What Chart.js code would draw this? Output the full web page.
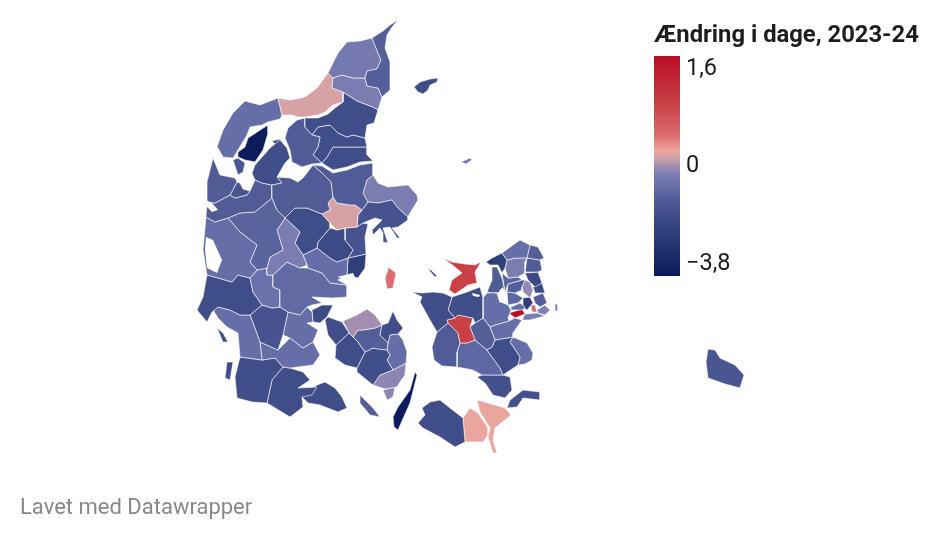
<!DOCTYPE html>
<html>
<head>
<meta charset="utf-8">
<style>body{margin:0;background:#fff}canvas{display:block}</style>
<script src="https://cdn.jsdelivr.net/npm/chart.js@4/dist/chart.umd.js"></script>
</head>
<body>
<canvas id="kort" width="940" height="540"></canvas>
<script>
// kommune outlines, in map units
const frederikshavn = [[398,20],[390,25],[383,31],[372,38],[374,43],[378,53],[381,60],[377,69],[367,71],[365,78],[367,86],[378,88],[382,97],[390,90],[390,62],[385,48],[387,35],[392,27]];
const hjorring = [[372,38],[360,41],[347,42],[338,53],[328,73],[333,78],[342,75],[353,78],[365,78],[367,71],[377,69],[381,60],[378,53],[374,43]];
const bronderslev = [[333,78],[342,75],[353,78],[365,78],[367,86],[378,88],[382,97],[378,110],[373,107],[357,101],[343,92],[332,88]];
const jammerbugt = [[328,73],[333,78],[332,88],[343,92],[343,102],[333,105],[325,112],[318,115],[305,117],[297,117],[292,115],[282,115],[278,98],[290,100],[305,97],[317,88]];
const laeso = [[414,87],[420,82],[430,79],[438,78],[437,82],[430,85],[428,90],[423,94],[418,92]];
const aalborg = [[343,92],[357,101],[373,107],[378,110],[374,123],[367,125],[365,138],[353,135],[347,137],[338,133],[330,125],[318,127],[312,135],[305,127],[305,118],[318,118],[328,114],[335,108],[343,102]];
const vesthimmerland = [[297,120],[305,118],[305,127],[312,135],[320,137],[318,147],[313,155],[322,163],[312,164],[302,167],[292,162],[290,150],[285,138],[288,128]];
const rebild = [[312,135],[318,127],[330,125],[338,133],[347,137],[353,135],[365,138],[367,147],[333,147],[327,157],[322,163],[313,155],[318,147],[320,137]];
const mariagerfjord = [[333,147],[367,147],[367,155],[373,161],[360,162],[347,167],[333,170],[322,163],[327,157]];
const randers = [[313,165],[322,166],[333,173],[347,170],[360,165],[373,163],[373,175],[367,180],[363,193],[365,197],[368,202],[362,210],[355,205],[350,205],[337,203],[333,197],[331,182],[322,173]];
const viborg = [[313,165],[322,173],[331,182],[333,197],[328,203],[330,210],[322,214],[307,208],[295,208],[285,218],[277,210],[272,198],[272,185],[282,183],[277,177],[290,178],[298,182],[303,178]];
const skive = [[255,165],[270,148],[280,140],[287,148],[290,158],[285,163],[277,177],[282,183],[272,185],[262,183],[255,180],[252,173]];
const fur = [[272,141],[280,139],[282,143],[275,144]];
const thy = [[278,98],[282,115],[280,119],[268,122],[262,125],[250,127],[247,135],[238,150],[233,158],[223,157],[218,148],[217,147],[223,130],[233,113],[245,101],[260,105]];
const mors = [[248,138],[268,125],[268,133],[263,150],[255,162],[245,160],[238,157],[238,152],[245,147]];
const lemvig = [[213,158],[220,175],[235,178],[237,182],[230,195],[215,203],[207,202],[207,182]];
const struerNord = [[238,158],[245,163],[243,172],[238,175],[233,160]];
const struerSyd = [[230,195],[237,182],[240,183],[243,189],[250,191],[247,195],[235,198]];
const holstebro = [[207,202],[215,203],[230,195],[235,198],[247,195],[250,191],[255,180],[262,183],[272,185],[272,198],[255,212],[240,213],[228,218],[215,222],[206,217]];
const favrskov = [[333,197],[337,203],[350,205],[355,205],[362,210],[358,215],[357,227],[345,228],[337,230],[330,223],[322,214],[330,210],[328,203]];
const ringkobing = [[206,217],[215,222],[228,218],[240,232],[257,245],[250,262],[257,270],[250,278],[238,275],[232,282],[218,278],[207,275],[203,250]];
const herning = [[228,218],[240,213],[255,212],[272,198],[277,210],[285,218],[277,230],[283,250],[270,257],[267,268],[257,270],[250,262],[257,245],[240,232]];
const ikast = [[285,218],[300,232],[295,243],[303,255],[307,265],[300,268],[287,262],[273,275],[267,275],[267,268],[270,257],[283,250],[277,230]];
const silkeborg = [[285,218],[295,208],[307,208],[322,214],[330,223],[330,228],[318,242],[317,248],[303,255],[295,243],[300,232]];
const skanderborg = [[318,242],[330,228],[337,230],[345,228],[345,240],[353,250],[348,258],[337,262],[330,258],[317,248]];
const aarhus = [[345,228],[357,227],[363,223],[368,224],[365,237],[366,254],[348,258],[353,250],[345,240]];
const syddjurs = [[368,202],[378,203],[392,200],[398,208],[408,217],[408,220],[398,227],[392,228],[400,238],[397,238],[390,227],[383,228],[388,243],[383,242],[383,233],[380,228],[373,235],[372,230],[382,220],[375,218],[363,223],[357,227],[358,215],[362,210]];
const norddjurs = [[363,193],[367,180],[373,175],[378,183],[388,187],[408,185],[417,195],[418,200],[410,213],[408,217],[398,208],[392,200],[378,203],[368,202],[365,197]];
const horsens = [[303,255],[317,248],[330,258],[337,262],[348,258],[347,275],[338,280],[347,285],[330,283],[322,273],[308,268],[307,265]];
const odder = [[348,258],[366,254],[365,268],[358,278],[347,275]];
const vejle = [[273,275],[287,262],[300,268],[308,268],[322,273],[330,283],[347,285],[347,297],[333,298],[312,297],[322,303],[312,305],[307,307],[300,315],[288,312],[280,307],[280,290],[273,287]];
const billund = [[250,278],[257,270],[267,268],[267,275],[273,275],[273,287],[280,290],[280,307],[272,308],[262,305],[253,292]];
const varde = [[207,275],[218,278],[232,282],[238,275],[250,278],[253,292],[262,305],[250,315],[240,315],[230,310],[218,307],[212,312],[207,322],[197,310],[203,297]];
const esbjerg = [[213,310],[218,307],[230,310],[240,315],[250,315],[260,342],[262,360],[240,357],[238,333],[227,327],[218,318]];
const fano = [[217,328],[223,333],[228,342],[223,342]];
const romo = [[227,362],[233,362],[230,380],[225,378]];
const vejen = [[250,315],[262,305],[272,308],[280,307],[288,312],[283,335],[278,350],[260,342]];
const kolding = [[288,312],[300,315],[307,307],[312,312],[313,322],[307,323],[318,330],[313,342],[303,348],[290,338],[283,335]];
const fredericia = [[312,310],[322,305],[333,305],[327,317],[320,323],[313,322]];
const haderslev = [[260,342],[278,350],[290,338],[303,348],[313,342],[320,355],[313,365],[290,368],[283,367],[275,358],[262,360]];
const tonder = [[240,357],[262,360],[275,358],[283,367],[272,380],[267,403],[252,402],[237,398],[235,377]];
const aabenraa = [[283,367],[290,368],[303,372],[310,380],[298,388],[317,387],[312,395],[302,397],[303,407],[290,417],[267,403],[272,380]];
const sonderborg = [[302,397],[317,385],[325,382],[335,388],[342,397],[347,408],[338,412],[320,405],[308,403]];
const middelfart = [[325,320],[328,317],[342,322],[349,333],[336,345],[328,335]];
const nordfyn = [[343,321],[357,315],[367,309],[375,315],[382,325],[375,328],[363,330],[358,330],[353,337],[349,333]];
const kerteminde = [[382,325],[388,323],[393,311],[397,320],[403,328],[398,334],[390,335],[388,343],[380,335]];
const odense = [[358,330],[363,330],[375,328],[382,325],[380,335],[388,343],[387,350],[378,349],[373,348],[365,352],[358,342],[353,337]];
const assens = [[336,345],[349,333],[353,337],[358,342],[365,352],[360,362],[357,368],[345,365],[335,358]];
const faaborg = [[365,352],[373,348],[387,350],[390,355],[387,360],[393,370],[380,375],[373,385],[357,372],[357,368],[360,362]];
const nyborg = [[388,343],[390,335],[398,334],[403,340],[407,352],[406,363],[393,370],[387,360],[390,355],[387,350]];
const svendborg = [[373,385],[380,375],[393,370],[406,363],[405,375],[400,382],[397,387],[385,389]];
const tasinge = [[383,390],[395,387],[393,397],[387,400]];
const aero = [[360,395],[373,408],[380,417],[370,415],[360,403]];
const langeland = [[415,372],[417,375],[410,403],[398,430],[394,427],[393,417],[398,407],[410,390]];
const samso = [[387,258],[388,267],[396,273],[393,288],[387,289],[385,278],[388,270]];
const anholt = [[461,162],[470,158],[472,160],[466,164]];
const bornholm = [[708,349],[715,350],[720,358],[735,365],[744,375],[740,388],[725,384],[708,378],[706,362]];
const odsherred = [[443,258],[452,262],[465,264],[475,265],[481,262],[475,272],[477,283],[468,285],[455,294],[449,290],[452,280],[462,273],[455,267]];
const kalundborg = [[412,292],[422,293],[433,292],[443,293],[452,297],[448,310],[455,318],[447,320],[448,323],[437,332],[430,320],[420,302],[422,297]];
const sejero = [[428,269],[431,270],[437,276],[435,277]];
const holbaek = [[452,297],[467,292],[480,287],[483,298],[483,318],[475,323],[473,318],[458,315],[455,318],[448,310]];
const soro = [[447,320],[455,318],[458,315],[473,318],[470,327],[475,340],[467,343],[460,343],[458,333],[448,323]];
const slagelse = [[437,332],[448,323],[458,333],[460,343],[457,352],[457,367],[442,366],[434,360],[432,347]];
const ringsted = [[475,323],[483,318],[490,327],[493,335],[495,340],[492,347],[487,350],[475,340],[470,327]];
const lejre = [[483,298],[487,293],[497,293],[499,300],[503,303],[508,305],[511,310],[508,318],[509,321],[495,325],[490,327],[483,318]];
const koge = [[490,327],[495,325],[509,321],[515,318],[522,320],[513,333],[513,337],[495,340],[493,335]];
const faxe = [[487,350],[492,347],[495,340],[513,337],[510,342],[520,357],[518,365],[503,375],[500,368]];
const stevns = [[513,337],[527,343],[533,353],[532,360],[525,364],[518,365],[520,357],[510,342]];
const naestved = [[457,352],[460,343],[467,343],[475,340],[487,350],[500,368],[503,375],[482,375],[473,370],[457,367]];
const vordingborg = [[477,377],[482,375],[503,375],[510,377],[512,390],[505,398],[493,395],[485,383]];
const mon = [[507,408],[510,400],[523,390],[540,392],[540,400],[523,398],[517,407]];
const lolland = [[422,408],[430,402],[440,400],[450,408],[463,418],[465,442],[455,447],[440,437],[423,428],[418,423],[425,415]];
const guldborgVest = [[463,418],[470,408],[478,413],[488,428],[488,435],[483,442],[465,442]];
const guldborgOst = [[477,400],[485,402],[495,405],[505,408],[511,415],[495,428],[493,440],[497,453],[493,453],[488,437],[490,428],[480,412]];
const gribskov = [[502,253],[520,240],[530,245],[527,258],[515,258],[507,260]];
const halsnaes = [[486,262],[492,258],[502,253],[507,260],[505,268],[502,273],[498,265],[490,265]];
const frederikssund = [[492,267],[497,267],[502,278],[505,292],[492,293],[487,292],[492,280]];
const helsingor = [[530,245],[538,247],[544,258],[540,260],[527,258]];
const hillerod = [[507,260],[515,258],[527,258],[525,262],[525,273],[518,277],[508,278],[505,268]];
const fredensborg = [[527,258],[540,260],[542,270],[538,272],[525,272]];
const horsholm = [[525,273],[538,272],[542,283],[535,287],[528,280]];
const allerod = [[502,273],[508,278],[518,277],[522,280],[508,284],[505,292]];
const egedal = [[508,284],[522,280],[525,280],[522,287],[522,290],[515,293],[507,292]];
const rudersdal = [[522,287],[525,280],[530,282],[533,290],[530,298],[523,292]];
const gladsaxe = [[528,292],[532,292],[532,296],[529,296]];
const lyngby = [[533,287],[542,283],[545,293],[535,293]];
const ballerup = [[507,292],[515,293],[523,298],[518,303],[508,305]];
const taastrup = [[511,307],[520,303],[525,307],[523,310],[511,310]];
const albertslund = [[523,298],[530,297],[533,303],[527,310],[523,307]];
const kobenhavn = [[533,297],[543,293],[547,303],[540,307],[535,303]];
const tarnby = [[531,305],[535,305],[537,312],[532,312]];
const dragor = [[537,310],[545,305],[550,310],[545,315],[538,313]];
const ishoj = [[525,314],[537,313],[545,316],[530,320],[522,320]];
const solrod = [[509,313],[522,309],[525,314],[515,318]];
const saltholm = [[555,303],[558,305],[558,311],[555,311]];

const regions = [
  frederikshavn, hjorring, bronderslev, jammerbugt, laeso, aalborg, vesthimmerland, rebild, mariagerfjord, randers,
  viborg, skive, fur, thy, mors, lemvig, struerNord, struerSyd, holstebro, favrskov, ringkobing,
  herning, ikast, silkeborg, skanderborg, aarhus, syddjurs, norddjurs, horsens, odder, vejle,
  billund, varde, esbjerg, fano, romo, vejen, kolding, fredericia, haderslev, tonder,
  aabenraa, sonderborg, middelfart, nordfyn, kerteminde, odense, assens, faaborg, nyborg, svendborg,
  tasinge, aero, langeland, samso, anholt, bornholm, odsherred, kalundborg, sejero, holbaek,
  soro, slagelse, ringsted, lejre, koge, faxe, stevns, naestved, vordingborg, mon,
  lolland, guldborgVest, guldborgOst, gribskov, halsnaes, frederikssund, helsingor, hillerod, fredensborg, horsholm,
  allerod, egedal, rudersdal, gladsaxe, lyngby, ballerup, taastrup, albertslund, kobenhavn, tarnby, dragor,
  ishoj, solrod, saltholm
];
const changes = [
  -1.3, -0.6, -0.5, 0.03, -1.9, -1.9, -1.4, -1.9, -1.9, -1.4,
  -1.4, -1.9, -1.9, -0.9, -3.8, -1.4, -1.6, -1.6, -1.4, 0.03, -0.9,
  -1.2, -0.5, -1.9, -2, -1.7, -1.7, -0.5, -0.9, -2.5, -1.0,
  -0.8, -1.9, -0.9, -1.9, -1.9, -1.7, -0.9, -2, -0.9, -1.9,
  -1.9, -1.9, -1.9, -0.15, -1.9, -1.3, -1.9, -1.9, -0.9, -0.3,
  -0.3, -1.3, -3.8, 0.35, -0.5, -1.6, 0.85, -1.9, -1.9, -1.9,
  0.85, -1.4, -1.3, -0.9, -0.9, -1.9, -0.9, -1.1, -1.8, -1.8,
  -1.9, 0.07, 0.07, -0.9, -2.5, -1.4, -1.3, -0.5, -1.4, -2,
  -1.2, -1.3, -0.25, 0.7, -2, -1.1, -0.9, -2.5, -1.3, 0.4, -0.4,
  -0.5, 1.6, -0.4
];
// waters cut into the land
const nissumFjord = [[206,200],[212,203],[218,210],[212,212],[207,207]];
const ringkobingFjord = [[206,237],[213,240],[222,260],[217,273],[207,268],[205,250]];
const horsensFjord = [[337,277],[353,273],[355,277],[345,279]];
const isefjord = [[472,293],[480,295],[479,297],[473,296]];
const roskildeFjord = [[499,291],[503,287],[505,293],[503,303],[499,302]];
const waters = [nissumFjord, ringkobingFjord, horsensFjord, isefjord, roskildeFjord];

// colour key
const keyBar = [[654,56],[680,56],[680,276],[654,276]];
const keyValues = [1.6, 0.9, 0.35, 0.08, 0, -0.15, -0.4, -0.8, -1.3, -1.9, -2.5, -3.8];
const keyColors = ['#b90d24','#c73c42','#dc6c6e','#f0a69d','#c7a0ab','#a38eb0','#8080b4','#6b72ab','#545f9a','#3f4d88','#2f3f7a','#0b1b5b'];
const keyStops = [0, 0.2, 0.36, 0.43, 0.47, 0.5, 0.53, 0.58, 0.64, 0.72, 0.8, 1];
const keyLabels = ['1,6', '0', '\u22123,8'];

function mix(a, b, t) {
  const pa = parseInt(a.slice(1), 16), pb = parseInt(b.slice(1), 16);
  const ch = s => Math.round(((pa >> s) & 255) * (1 - t) + ((pb >> s) & 255) * t);
  return `rgb(${ch(16)},${ch(8)},${ch(0)})`;
}
function colorFor(v) {
  for (let i = 1; i < keyValues.length; i++) {
    if (v >= keyValues[i]) {
      return mix(keyColors[i - 1], keyColors[i], (keyValues[i - 1] - v) / (keyValues[i - 1] - keyValues[i]));
    }
  }
  return keyColors[keyColors.length - 1];
}
const toPoints = outline => outline.concat([outline[0]]).map(p => ({ x: p[0], y: p[1] }));

const canvas = document.getElementById('kort');
const keyGradient = canvas.getContext('2d').createLinearGradient(0, keyBar[0][1], 0, keyBar[2][1]);
keyStops.forEach((s, i) => keyGradient.addColorStop(s, keyColors[i]));

// Chart.js paints the first dataset last, so the waters go in front
const datasets = waters.map(outline => ({ data: toPoints(outline), backgroundColor: '#fff', borderWidth: 0 }));
regions.forEach((outline, i) => datasets.push({
  data: toPoints(outline),
  backgroundColor: colorFor(changes[i]),
  borderColor: 'rgba(255,255,255,0.75)',
  borderWidth: 0.8
}));
datasets.push({ data: toPoints(keyBar), borderWidth: 0, backgroundColor: keyGradient });

const texts = {
  id: 'texts',
  afterDraw(chart) {
    const c = chart.ctx;
    c.save();
    c.textBaseline = 'alphabetic';
    c.fillStyle = '#1d1d1d';
    c.font = 'bold 23.8px Roboto';
    c.fillText('Ændring i dage, 2023-24', 654, 42);
    c.font = '23.5px Roboto';
    c.fillText(keyLabels[0], 686, 75);
    c.fillText(keyLabels[1], 686, 172);
    c.fillText(keyLabels[2], 686, 270);
    c.fillStyle = '#888';
    c.font = '22px Roboto';
    c.fillText('Lavet med Datawrapper', 20, 514);
    c.restore();
  }
};

new Chart(canvas, {
  type: 'scatter',
  data: { datasets },
  options: {
    responsive: false,
    animation: false,
    layout: { padding: 0 },
    clip: false,
    showLine: true,
    fill: 'shape',
    tension: 0,
    pointRadius: 0,
    plugins: { legend: { display: false }, tooltip: { enabled: false } },
    scales: {
      x: { type: 'linear', min: 0, max: 940, display: false },
      y: { type: 'linear', min: 0, max: 540, reverse: true, display: false }
    }
  },
  plugins: [texts]
});
</script>
</body>
</html>
